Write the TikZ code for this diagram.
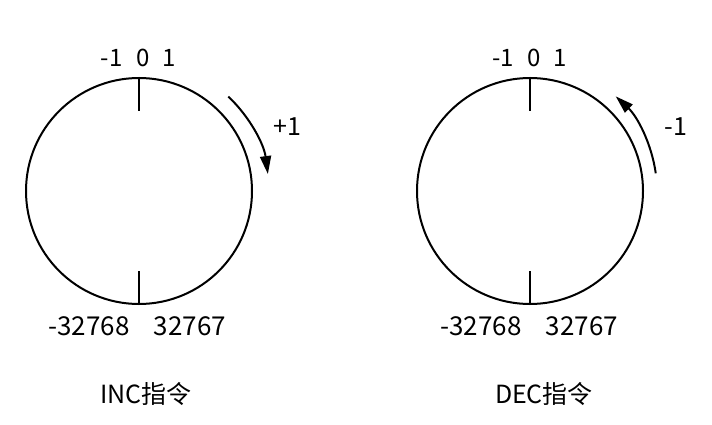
\documentclass[tikz,border=0pt]{standalone}
\usepackage{fontspec}
\setmainfont{Noto Sans CJK SC}
\usetikzlibrary{arrows.meta}
\begin{document}
\begin{tikzpicture}[x=1pt,y=1pt,
  ring/.style={circle,draw,line width=2pt,minimum size=226pt,inner sep=0pt},
  tick/.style={line width=2pt},
  turn/.style={line width=2pt,-{Triangle[length=18pt,width=11pt]}},
  toplab/.style={anchor=base,inner sep=0pt,font=\fontsize{24}{28}\selectfont},
  botlab/.style={anchor=base,inner sep=0pt,font=\fontsize{26}{30}\selectfont},
  title/.style={anchor=base,inner sep=0pt,font=\fontsize{25}{30}\selectfont},
  steplab/.style={anchor=base,inner sep=0pt,font=\fontsize{25}{28}\selectfont}]
\useasboundingbox (0,0) rectangle (712,424);
% left
\node[ring] (L) at (139,233) {};
\draw[tick] (L.north) -- ++(0,-34) coordinate (Lt);
\draw[tick] (L.south) -- ++(0,34) coordinate (Lb);
\node[toplab] (L1) at (111.5,357) {-1};
\node[toplab] (L2) at (143,357) {0};
\node[toplab] (L3) at (169,357) {1};
\node[botlab] (L4) at (89,89) {-32768};
\node[botlab] (L5) at (190,89) {32767};
\draw[turn] (L.center) ++(46.6:130) arc[start angle=46.6,end angle=7.5,radius=130];
\node[steplab] (Lp) at (287,289) {+1};
\node[title] (Lt1) at (146,21) {INC指令};
% right
\node[ring] (R) at (530,233) {};
\draw[tick] (R.north) -- ++(0,-34) coordinate (Rt);
\draw[tick] (R.south) -- ++(0,34) coordinate (Rb);
\node[toplab] (R1) at (503,357) {-1};
\node[toplab] (R2) at (534.5,357) {0};
\node[toplab] (R3) at (560.5,357) {1};
\node[botlab] (R4) at (481,89) {-32768};
\node[botlab] (R5) at (582,89) {32767};
\draw[turn] (R.center) ++(8:127) arc[start angle=8,end angle=47,radius=130];
\node[steplab] (Rm) at (676,289) {-1};
\node[title] (Rt1) at (544,21) {DEC指令};
\end{tikzpicture}
\end{document}
